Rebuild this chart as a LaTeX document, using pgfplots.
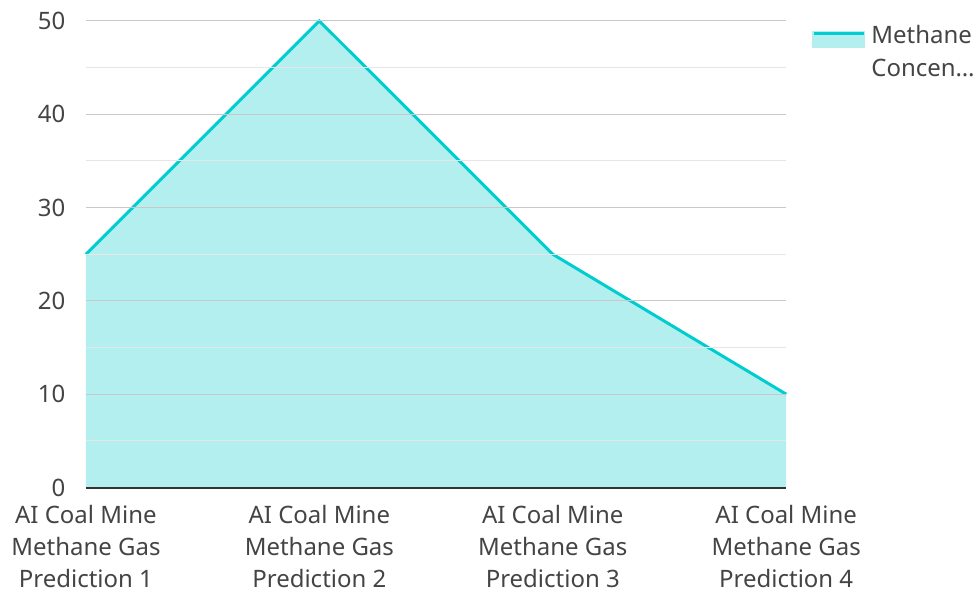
\documentclass[border=0pt]{standalone}
\usepackage{pgfplots}
\pgfplotsset{compat=1.18}
\usepackage{fontspec}
\setmainfont{Noto Sans}
\definecolor{cline}{HTML}{00CDD0}
\definecolor{cfill}{HTML}{B2EFEE}
\definecolor{ctext}{HTML}{444444}
\definecolor{cgrid}{HTML}{C8C8C8}
\definecolor{cminor}{HTML}{E6E6E6}
\begin{document}
\begin{tikzpicture}
\path[use as bounding box] (-64.5pt,-78pt) rectangle (670.5pt,366pt);
\begin{axis}[
  name=ax,
  at={(0pt,0pt)}, anchor=south west,
  scale only axis,
  width=525.75pt, height=350.25pt,
  xmin=0, xmax=3, ymin=0, ymax=50,
  axis x line*=bottom,
  axis y line*=left,
  y axis line style={draw=none},
  x axis line style={draw=black!80, line width=1.5pt},
  xtick={0,1,2,3},
  xticklabels={AI Coal Mine\\Methane Gas\\Prediction 1,AI Coal Mine\\Methane Gas\\Prediction 2,AI Coal Mine\\Methane Gas\\Prediction 3,AI Coal Mine\\Methane Gas\\Prediction 4},
  x tick label style={align=center, font=\fontsize{18pt}{24pt}\selectfont, text=ctext, yshift=-10pt},
  major x tick style={draw=none},
  ytick={0,10,...,50},
  minor ytick={5,15,...,45},
  ymajorgrids, yminorgrids,
  major grid style={draw=cgrid, line width=0.75pt},
  minor grid style={draw=cminor, line width=0.75pt},
  y tick label style={font=\fontsize{18pt}{24pt}\selectfont, text=ctext, xshift=-12pt},
  yticklabel style={/pgf/number format/assume math mode=true},
  major y tick style={draw=none},
  minor tick style={draw=none},
  axis on top,
  clip=false,
  legend style={at={(rel axis cs:1,1)}, anchor=north west, xshift=16.5pt, yshift=4pt, draw=none, fill=none,
    font=\fontsize{18pt}{24pt}\selectfont, text=ctext, legend cell align=left},
  legend image code/.code={
    \fill[cfill] (0,-10pt) rectangle (37.5pt,1pt);
    \draw[cline, line width=2.25pt] (0,0pt) -- (37.5pt,0pt);
  },
]
\addplot[draw=none, fill=cfill, forget plot] coordinates {(0,25) (1,50) (2,25) (3,10)} \closedcycle;
\addplot[draw=cline, line width=2.25pt] coordinates {(0,25) (1,50) (2,25) (3,10)};
\addlegendentry{\begin{tabular}[t]{@{\hspace{2.5pt}}l@{}}Methane\\[1pt]Concen…\end{tabular}}
\end{axis}
\end{tikzpicture}
\end{document}
